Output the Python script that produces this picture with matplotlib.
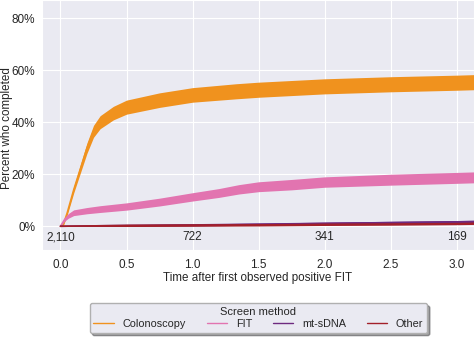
import numpy as np
import matplotlib.pyplot as plt
import seaborn as sns
from matplotlib.lines import Line2D
from matplotlib.ticker import PercentFormatter

sns.set_style('darkgrid')
plt.rcParams['font.family'] = ['Liberation Sans', 'DejaVu Sans']

# cumulative completion (%), with CI half-widths
col_t = [0, 0.02, 0.05, 0.1, 0.15, 0.2, 0.25, 0.3, 0.4, 0.5, 0.75, 1.0, 1.33, 1.5, 2.0, 2.5, 3.0, 3.13]
col_y = [0, 0.5, 5, 14, 22, 30, 36.5, 40, 43.5, 45.8, 48.5, 50.5, 51.9, 52.5, 53.8, 54.6, 55.2, 55.4]
col_w = [0, 0.4, 0.8, 1.2, 1.6, 2.0, 2.3, 2.5, 2.6, 2.7, 2.8, 2.8, 2.9, 2.9, 2.9, 2.9, 2.9, 2.9]

fit_t = [0, 0.03, 0.06, 0.1, 0.2, 0.3, 0.5, 0.75, 1.0, 1.2, 1.35, 1.5, 1.75, 2.0, 2.5, 3.0, 3.13]
fit_y = [0, 2.5, 4.0, 5.2, 6.0, 6.6, 7.6, 9.3, 11.3, 12.8, 14.2, 15.2, 16.0, 17.0, 17.9, 18.6, 18.8]
fit_w = [0, 0.6, 0.9, 1.1, 1.2, 1.3, 1.4, 1.5, 1.6, 1.7, 1.8, 1.9, 2.0, 2.0, 2.1, 2.1, 2.1]

dna_t = [0, 0.5, 1.0, 1.5, 2.0, 2.5, 3.0, 3.13]
dna_y = [0, 0.3, 0.5, 0.8, 1.1, 1.4, 1.7, 1.8]
dna_w = [0, 0.3, 0.4, 0.4, 0.5, 0.5, 0.5, 0.5]

oth_t = [0, 0.5, 1.0, 1.5, 2.0, 2.5, 3.0, 3.13]
oth_y = [0, 0.3, 0.4, 0.5, 0.7, 0.8, 1.0, 1.1]
oth_w = [0, 0.4, 0.4, 0.4, 0.4, 0.4, 0.4, 0.4]

methods = ['Colonoscopy', 'FIT', 'mt-sDNA', 'Other']
colors = ['#f0921e', '#e274b0', '#6e2a80', '#a3202a']

at_risk_t = [0, 1, 2, 3]
at_risk_n = ['2,110', '722', '341', '169']

fig = plt.figure(figsize=(4.74, 3.39), dpi=100)
ax = fig.add_axes([0.0886, 0.262, 0.9114, 0.738])

series = [(col_t, col_y, col_w), (fit_t, fit_y, fit_w), (dna_t, dna_y, dna_w), (oth_t, oth_y, oth_w)]
for (t, y, w), c in zip(series, colors):
    t = np.array(t)
    y = np.array(y)
    w = np.array(w)
    ax.fill_between(t, y - w, y + w, color=c, lw=0, zorder=3)
    ax.plot(t, y, color=c, lw=1.2, zorder=3)

for t, n in zip(at_risk_t, at_risk_n):
    ax.text(t, -4.3, n, ha='center', va='center', fontsize=8.5, color='#262626')

ax.set_xlim(-0.14, 3.13)
ax.set_ylim(-9.2, 87)
ax.set_xticks([0, 0.5, 1.0, 1.5, 2.0, 2.5, 3.0])
ax.set_yticks([0, 20, 40, 60, 80])
ax.yaxis.set_major_formatter(PercentFormatter(decimals=0))
ax.tick_params(labelsize=8.5, length=0)
ax.tick_params(axis='x', pad=6)
ax.tick_params(axis='y', pad=5)
ax.set_xlabel('Time after first observed positive FIT', fontsize=8.4, labelpad=1)
ax.set_ylabel('Percent who completed', fontsize=8.4)
ax.yaxis.set_label_coords(-0.066, 0.49)

handles = [Line2D([], [], color=c, lw=1) for c in colors]
leg = fig.legend(handles, methods, title='Screen method', ncol=4,
                 loc='center', bbox_to_anchor=(0.545, 0.062), fontsize=7.8,
                 title_fontsize=8, frameon=True, shadow=True,
                 columnspacing=1.9, handlelength=1.9, borderpad=0.35,
                 labelspacing=0.2)
leg.get_frame().set_facecolor('#eaeaf2')
leg.get_frame().set_edgecolor('#b0b0b0')

fig.savefig('out.png', dpi=100)
